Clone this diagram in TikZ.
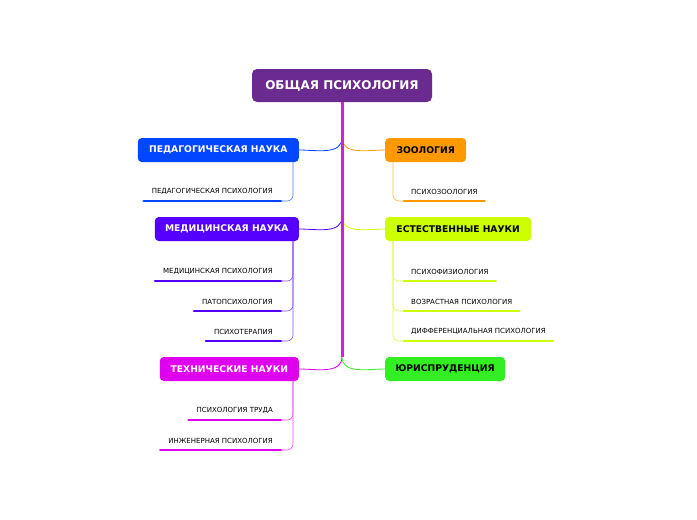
\documentclass[tikz,border=0pt]{standalone}
\usepackage{fontspec}
\setmainfont{DejaVu Sans}
\usepackage{tikz}
\definecolor{cRoot}{HTML}{6A2A8F}
\definecolor{cPed}{HTML}{0047FF}
\definecolor{cMed}{HTML}{5500FF}
\definecolor{cTech}{HTML}{E000F0}
\definecolor{cZoo}{HTML}{FF9900}
\definecolor{cNat}{HTML}{CCFF00}
\definecolor{cJur}{HTML}{33EE22}
\definecolor{cTrunk}{HTML}{CC22DD}
\tikzset{
  topic/.style={fill=#1, rounded corners=4pt, minimum height=24pt, inner xsep=9pt,
    font=\fontsize{9.2}{11}\selectfont\bfseries, text=white},
  leaf/.style={inner xsep=8pt, inner ysep=6pt, font=\fontsize{7}{8}\selectfont,
    append after command={(\tikzlastnode.south west) edge[line width=2.6pt, #1, line cap=round] (\tikzlastnode.south east)}},
  branch/.style={#1, line width=0.8pt},
  sub/.style={#1!70, line width=0.6pt, rounded corners=6pt}
}
\begin{document}
\begin{tikzpicture}[x=1pt, y=-1pt]
\useasboundingbox (0,0) rectangle (697,520);
% root
\node[fill=cRoot, rounded corners=5pt, minimum width=180pt, minimum height=33pt,
  text=white, font=\fontsize{12}{14}\selectfont\bfseries] (root) at (342,85.5) {ОБЩАЯ ПСИХОЛОГИЯ};
% main topics
\node[topic=cPed, anchor=east, minimum width=161pt] (ped) at (299,150) {ПЕДАГОГИЧЕСКАЯ НАУКА};
\node[topic=cMed, anchor=east, minimum width=144pt] (med) at (299,229) {МЕДИЦИНСКАЯ НАУКА};
\node[topic=cTech, anchor=east, minimum width=139pt] (tech) at (299,369) {ТЕХНИЧЕСКИЕ НАУКИ};
\node[topic=cZoo, anchor=west, text=black, minimum width=81pt] (zoo) at (385,150) {ЗООЛОГИЯ};
\node[topic=cNat, anchor=west, text=black, minimum width=146pt] (nat) at (385,229) {ЕСТЕСТВЕННЫЕ НАУКИ};
\node[topic=cJur, anchor=west, text=black, minimum width=120pt] (jur) at (385,369) {ЮРИСПРУДЕНЦИЯ};
% branches
\draw[branch=cPed] (root.south |- ped.north) to[out=-90, in=0] (ped.east);
\draw[branch=cMed] (root.south |- med.north) to[out=-90, in=0] (med.east);
\draw[branch=cTech] (root.south |- tech.north) to[out=-90, in=0] (tech.east);
\draw[branch=cZoo] (root.south |- zoo.north) to[out=-90, in=180] (zoo.west);
\draw[branch=cNat] (root.south |- nat.north) to[out=-90, in=180] (nat.west);
\draw[branch=cJur] (root.south |- jur.north) to[out=-90, in=180] (jur.west);
\draw[cTrunk, line width=3pt] (root.south) -- (root.south |- tech.north);
% leaves, left
\node[leaf=cPed, anchor=south east] (pedpsy) at (281,201) {ПЕДАГОГИЧЕСКАЯ ПСИХОЛОГИЯ};
\node[leaf=cMed, anchor=south east] (medpsy) at (281,281) {МЕДИЦИНСКАЯ ПСИХОЛОГИЯ};
\node[leaf=cMed, anchor=south east] (pato) at (281,311) {ПАТОПСИХОЛОГИЯ};
\node[leaf=cMed, anchor=south east] (ther) at (281,341) {ПСИХОТЕРАПИЯ};
\node[leaf=cTech, anchor=south east] (labor) at (281,420) {ПСИХОЛОГИЯ ТРУДА};
\node[leaf=cTech, anchor=south east] (eng) at (281,450) {ИНЖЕНЕРНАЯ ПСИХОЛОГИЯ};
% leaves, right
\node[leaf=cZoo, anchor=south west, inner xsep=7pt] (zoopsy) at (404,201) {ПСИХОЗООЛОГИЯ};
\node[leaf=cNat, anchor=south west, inner xsep=7pt] (phys) at (404,281) {ПСИХОФИЗИОЛОГИЯ};
\node[leaf=cNat, anchor=south west, inner xsep=7pt] (age) at (404,311) {ВОЗРАСТНАЯ ПСИХОЛОГИЯ};
\node[leaf=cNat, anchor=south west, inner xsep=7pt] (diff) at (404,341) {ДИФФЕРЕНЦИАЛЬНАЯ ПСИХОЛОГИЯ};
% sub connectors
\draw[sub=cPed] ([xshift=-6pt]ped.south east) |- (pedpsy.south east);
\foreach \n in {medpsy, pato, ther}
  \draw[sub=cMed] ([xshift=-6pt]med.south east) |- (\n.south east);
\foreach \n in {labor, eng}
  \draw[sub=cTech] ([xshift=-6pt]tech.south east) |- (\n.south east);
\draw[sub=cZoo] ([xshift=8pt]zoo.south west) |- (zoopsy.south west);
\foreach \n in {phys, age, diff}
  \draw[sub=cNat] ([xshift=8pt]nat.south west) |- (\n.south west);
\end{tikzpicture}
\end{document}
